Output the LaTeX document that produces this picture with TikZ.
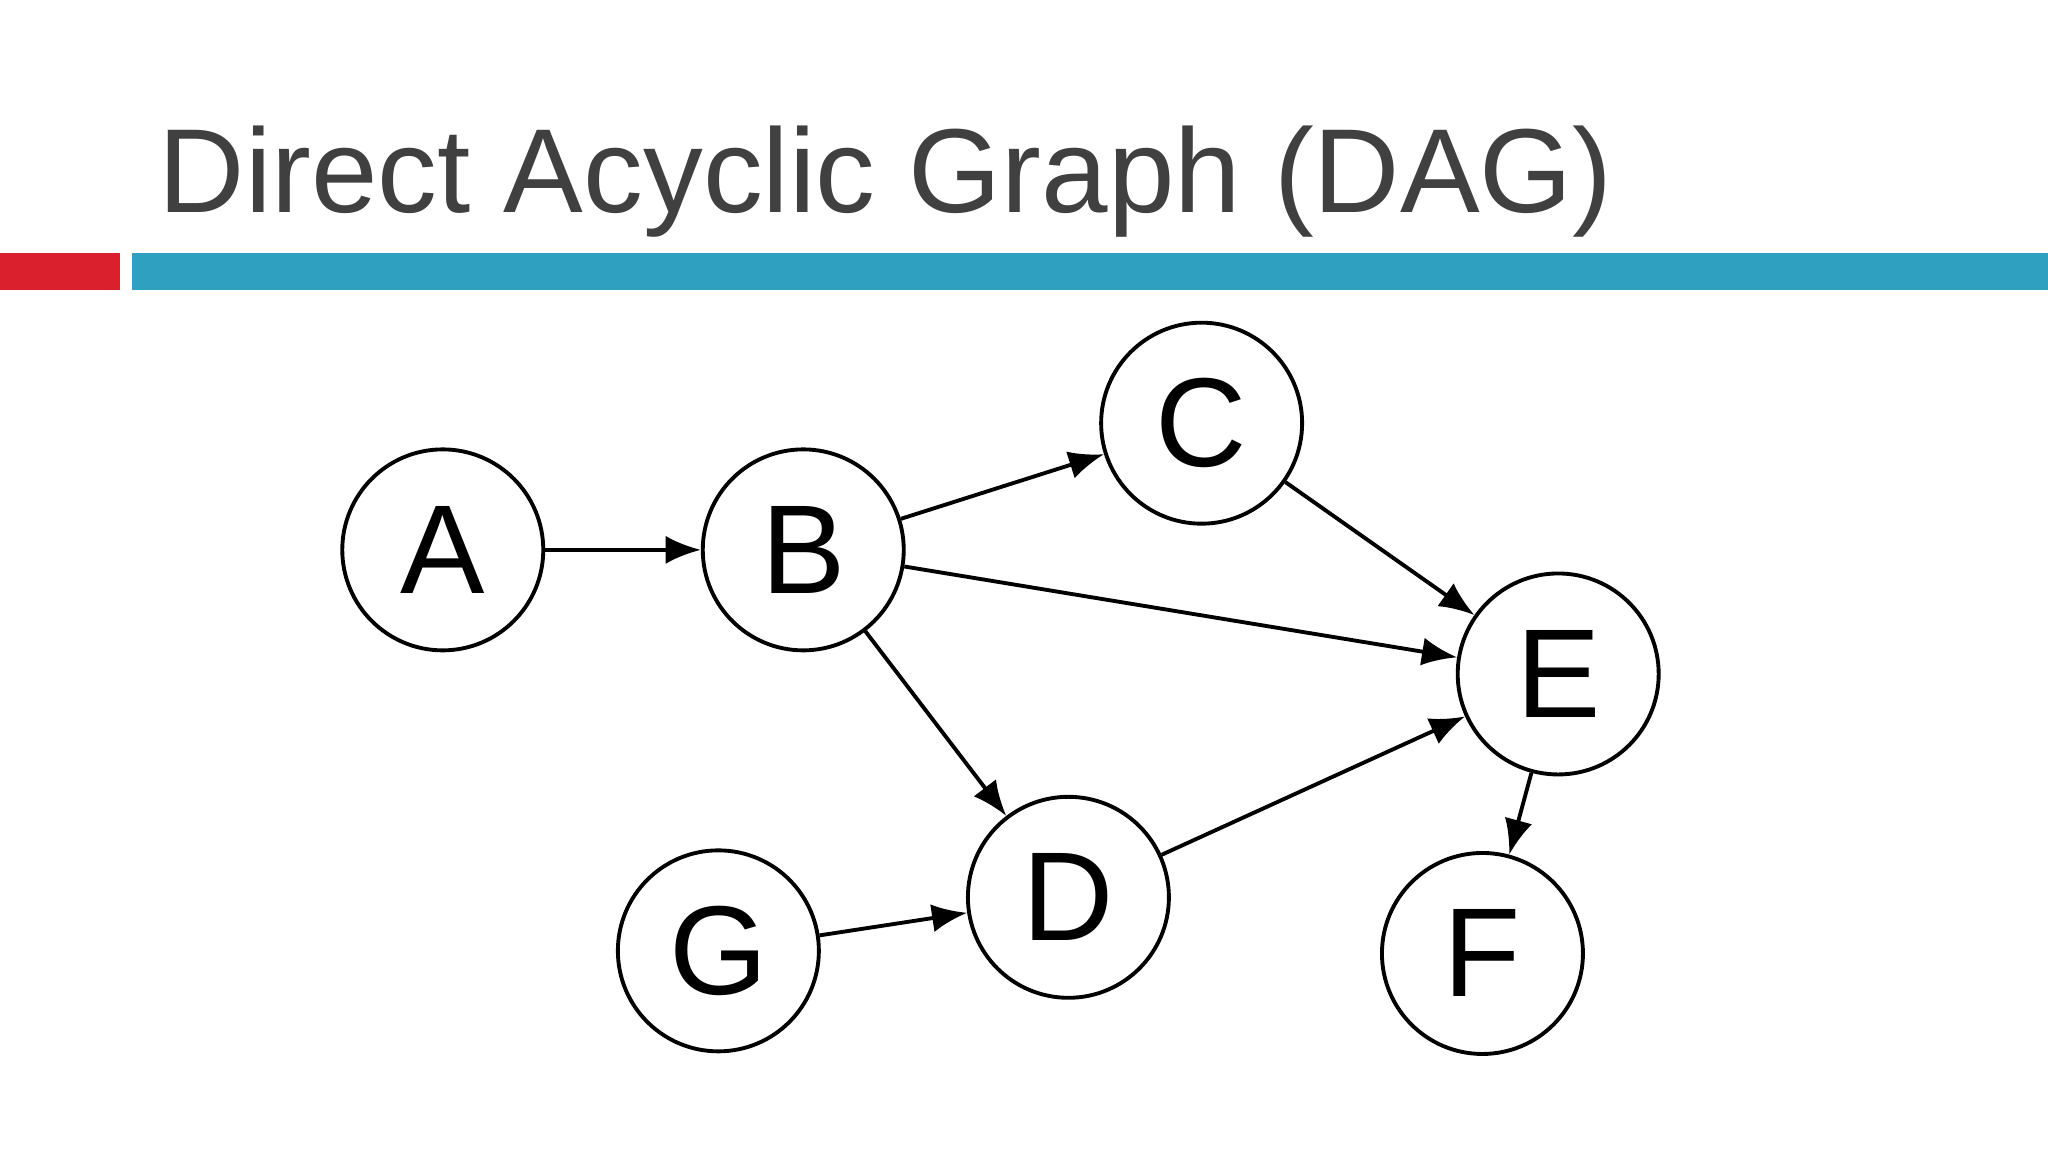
\documentclass[tikz,border=0pt]{standalone}
\usepackage{fontspec}
\setmainfont{Liberation Sans}
\usetikzlibrary{arrows.meta}
\definecolor{titlegray}{HTML}{404040}
\definecolor{barred}{HTML}{D9202C}
\definecolor{barblue}{HTML}{2FA0C0}
\begin{document}
\begin{tikzpicture}[x=0.013061cm,y=-0.013061cm,
  vert/.style={circle,draw,line width=1.1pt,minimum size=2.01cm,inner sep=0pt,font=\fontsize{36}{36}\selectfont},
  edge/.style={-{Latex[length=10pt,width=8pt]},line width=1.1pt}]
\useasboundingbox (0,0) rectangle (1568,882);
\fill[white] (0,0) rectangle (1568,882);
\node[anchor=base west,inner sep=0pt,text=titlegray,font=\fontsize{34}{34}\selectfont] (title) at (121,163) {Direct Acyclic Graph (DAG)};
\fill[barred] (0,194) rectangle (92,222);
\fill[barblue] (101,194) rectangle (1568,222);
\node[vert] (A) at (339,421) {A};
\node[vert] (B) at (615,421) {B};
\node[vert] (C) at (920,324) {C};
\node[vert] (E) at (1193,516) {E};
\node[vert] (D) at (818,687) {D};
\node[vert] (G) at (550,728) {G};
\node[vert] (F) at (1135,730) {F};
\draw[edge] (A) -- (B);
\draw[edge] (B) -- (C);
\draw[edge] (B) -- (E);
\draw[edge] (B) -- (D);
\draw[edge] (C) -- (E);
\draw[edge] (D) -- (E);
\draw[edge] (G) -- (D);
\draw[edge] (E) -- (F);
\end{tikzpicture}
\end{document}
